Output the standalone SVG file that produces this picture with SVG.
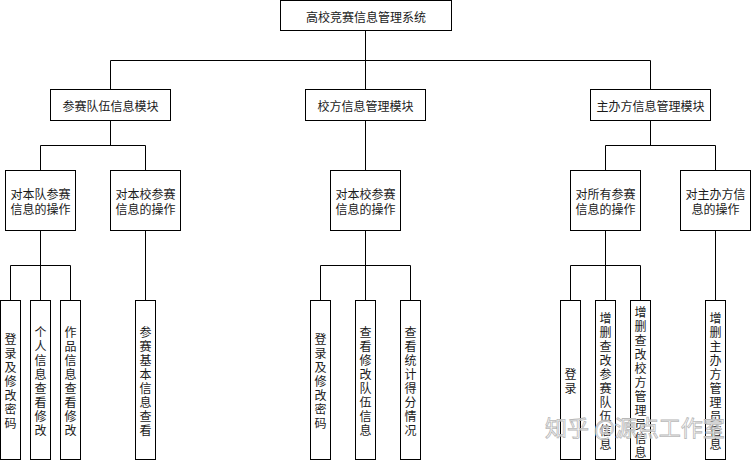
<svg xmlns="http://www.w3.org/2000/svg" width="751" height="461" viewBox="0 0 751 461">
<style>
.box{fill:#fff;stroke:#000;stroke-width:1}
.ln{fill:none;stroke:#000;stroke-width:1}
.t{font-family:"Noto Sans CJK SC","Liberation Sans",sans-serif;font-size:12px;fill:#1a1a1a;text-anchor:middle;dominant-baseline:central}
.wm{font-family:"Noto Sans CJK SC","Liberation Sans",sans-serif;font-size:22px;fill:#fff;fill-opacity:0.6;stroke:#b8b8b8;stroke-width:0.8}
</style>
<rect width="751" height="461" fill="#fff"/>
<g id="connectors">
<path class="ln" d="M365.5 30.5V60.5M110.5 60.5H650.5M110.5 60.5V89.5M365.5 60.5V89.5M650.5 60.5V89.5"/>
<path class="ln" d="M110.5 120.5V145.5M40.5 145.5H145.5M40.5 145.5V170.5M145.5 145.5V170.5"/>
<path class="ln" d="M365.5 120.5V170.5"/>
<path class="ln" d="M650.5 120.5V145.5M605.5 145.5H715.5M605.5 145.5V170.5M715.5 145.5V170.5"/>
<path class="ln" d="M40.5 230.5V265.5M10.5 265.5H70.5M10.5 265.5V300.5M40.5 265.5V300.5M70.5 265.5V300.5"/>
<path class="ln" d="M145.5 230.5V300.5"/>
<path class="ln" d="M365.5 230.5V265.5M320.5 265.5H410.5M320.5 265.5V300.5M365.5 265.5V300.5M410.5 265.5V300.5"/>
<path class="ln" d="M605.5 230.5V265.5M570.5 265.5H640.5M570.5 265.5V300.5M605.5 265.5V300.5M640.5 265.5V300.5"/>
<path class="ln" d="M715.5 230.5V300.5"/>
</g>
<g id="root"><rect class="box" x="280.5" y="0.5" width="171" height="30"/><text class="t" x="366" y="16">高校竞赛信息管理系统</text></g>
<g id="m1"><rect class="box" x="50.5" y="89.5" width="120" height="31"/><text class="t" x="110.5" y="105">参赛队伍信息模块</text></g>
<g id="m2"><rect class="box" x="305.5" y="89.5" width="120" height="31"/><text class="t" x="365.5" y="105">校方信息管理模块</text></g>
<g id="m3"><rect class="box" x="590.5" y="89.5" width="120" height="31"/><text class="t" x="650.5" y="105">主办方信息管理模块</text></g>
<g id="opA"><rect class="box" x="5.5" y="170.5" width="70" height="60"/><text class="t" x="40.5" y="193">对本队参赛</text><text class="t" x="40.5" y="208">信息的操作</text></g>
<g id="opB"><rect class="box" x="110.5" y="170.5" width="70" height="60"/><text class="t" x="145.5" y="193">对本校参赛</text><text class="t" x="145.5" y="208">信息的操作</text></g>
<g id="opC"><rect class="box" x="330.5" y="170.5" width="70" height="60"/><text class="t" x="365.5" y="193">对本校参赛</text><text class="t" x="365.5" y="208">信息的操作</text></g>
<g id="opD"><rect class="box" x="570.5" y="170.5" width="70" height="60"/><text class="t" x="605.5" y="193">对所有参赛</text><text class="t" x="605.5" y="208">信息的操作</text></g>
<g id="opE"><rect class="box" x="680.5" y="170.5" width="70" height="60"/><text class="t" x="715.5" y="193">对主办方信</text><text class="t" x="715.5" y="208">息的操作</text></g>
<g id="L1"><rect class="box" x="0.5" y="300.5" width="20" height="159"/><text class="t"><tspan x="10.5" y="338">登</tspan><tspan x="10.5" dy="14">录</tspan><tspan x="10.5" dy="14">及</tspan><tspan x="10.5" dy="14">修</tspan><tspan x="10.5" dy="14">改</tspan><tspan x="10.5" dy="14">密</tspan><tspan x="10.5" dy="14">码</tspan></text></g>
<g id="L2"><rect class="box" x="30.5" y="300.5" width="20" height="159"/><text class="t"><tspan x="40.5" y="331">个</tspan><tspan x="40.5" dy="14">人</tspan><tspan x="40.5" dy="14">信</tspan><tspan x="40.5" dy="14">息</tspan><tspan x="40.5" dy="14">查</tspan><tspan x="40.5" dy="14">看</tspan><tspan x="40.5" dy="14">修</tspan><tspan x="40.5" dy="14">改</tspan></text></g>
<g id="L3"><rect class="box" x="60.5" y="300.5" width="20" height="159"/><text class="t"><tspan x="70.5" y="331">作</tspan><tspan x="70.5" dy="14">品</tspan><tspan x="70.5" dy="14">信</tspan><tspan x="70.5" dy="14">息</tspan><tspan x="70.5" dy="14">查</tspan><tspan x="70.5" dy="14">看</tspan><tspan x="70.5" dy="14">修</tspan><tspan x="70.5" dy="14">改</tspan></text></g>
<g id="L4"><rect class="box" x="135.5" y="300.5" width="20" height="159"/><text class="t"><tspan x="145.5" y="331">参</tspan><tspan x="145.5" dy="14">赛</tspan><tspan x="145.5" dy="14">基</tspan><tspan x="145.5" dy="14">本</tspan><tspan x="145.5" dy="14">信</tspan><tspan x="145.5" dy="14">息</tspan><tspan x="145.5" dy="14">查</tspan><tspan x="145.5" dy="14">看</tspan></text></g>
<g id="L5"><rect class="box" x="310.5" y="300.5" width="20" height="159"/><text class="t"><tspan x="320.5" y="338">登</tspan><tspan x="320.5" dy="14">录</tspan><tspan x="320.5" dy="14">及</tspan><tspan x="320.5" dy="14">修</tspan><tspan x="320.5" dy="14">改</tspan><tspan x="320.5" dy="14">密</tspan><tspan x="320.5" dy="14">码</tspan></text></g>
<g id="L6"><rect class="box" x="355.5" y="300.5" width="20" height="159"/><text class="t"><tspan x="365.5" y="331">查</tspan><tspan x="365.5" dy="14">看</tspan><tspan x="365.5" dy="14">修</tspan><tspan x="365.5" dy="14">改</tspan><tspan x="365.5" dy="14">队</tspan><tspan x="365.5" dy="14">伍</tspan><tspan x="365.5" dy="14">信</tspan><tspan x="365.5" dy="14">息</tspan></text></g>
<g id="L7"><rect class="box" x="400.5" y="300.5" width="20" height="159"/><text class="t"><tspan x="410.5" y="331">查</tspan><tspan x="410.5" dy="14">看</tspan><tspan x="410.5" dy="14">统</tspan><tspan x="410.5" dy="14">计</tspan><tspan x="410.5" dy="14">得</tspan><tspan x="410.5" dy="14">分</tspan><tspan x="410.5" dy="14">情</tspan><tspan x="410.5" dy="14">况</tspan></text></g>
<g id="L8"><rect class="box" x="560.5" y="300.5" width="20" height="159"/><text class="t"><tspan x="570.5" y="373">登</tspan><tspan x="570.5" dy="14">录</tspan></text></g>
<g id="L9"><rect class="box" x="595.5" y="300.5" width="20" height="159"/><text class="t"><tspan x="605.5" y="317">增</tspan><tspan x="605.5" dy="14">删</tspan><tspan x="605.5" dy="14">查</tspan><tspan x="605.5" dy="14">改</tspan><tspan x="605.5" dy="14">参</tspan><tspan x="605.5" dy="14">赛</tspan><tspan x="605.5" dy="14">队</tspan><tspan x="605.5" dy="14">伍</tspan><tspan x="605.5" dy="14">信</tspan><tspan x="605.5" dy="14">息</tspan></text></g>
<g id="L10"><rect class="box" x="630.5" y="300.5" width="20" height="159"/><text class="t"><tspan x="640.5" y="311">增</tspan><tspan x="640.5" dy="14">删</tspan><tspan x="640.5" dy="14">查</tspan><tspan x="640.5" dy="14">改</tspan><tspan x="640.5" dy="14">校</tspan><tspan x="640.5" dy="14">方</tspan><tspan x="640.5" dy="14">管</tspan><tspan x="640.5" dy="14">理</tspan><tspan x="640.5" dy="14">员</tspan><tspan x="640.5" dy="14">信</tspan><tspan x="640.5" dy="14">息</tspan></text></g>
<g id="L11"><rect class="box" x="705.5" y="300.5" width="20" height="159"/><text class="t"><tspan x="715.5" y="317">增</tspan><tspan x="715.5" dy="14">删</tspan><tspan x="715.5" dy="14">主</tspan><tspan x="715.5" dy="14">办</tspan><tspan x="715.5" dy="14">方</tspan><tspan x="715.5" dy="14">管</tspan><tspan x="715.5" dy="14">理</tspan><tspan x="715.5" dy="14">员</tspan><tspan x="715.5" dy="14">信</tspan><tspan x="715.5" dy="14">息</tspan></text></g>
<text class="wm" x="545" y="436">知乎 @源点工作室</text>
</svg>
